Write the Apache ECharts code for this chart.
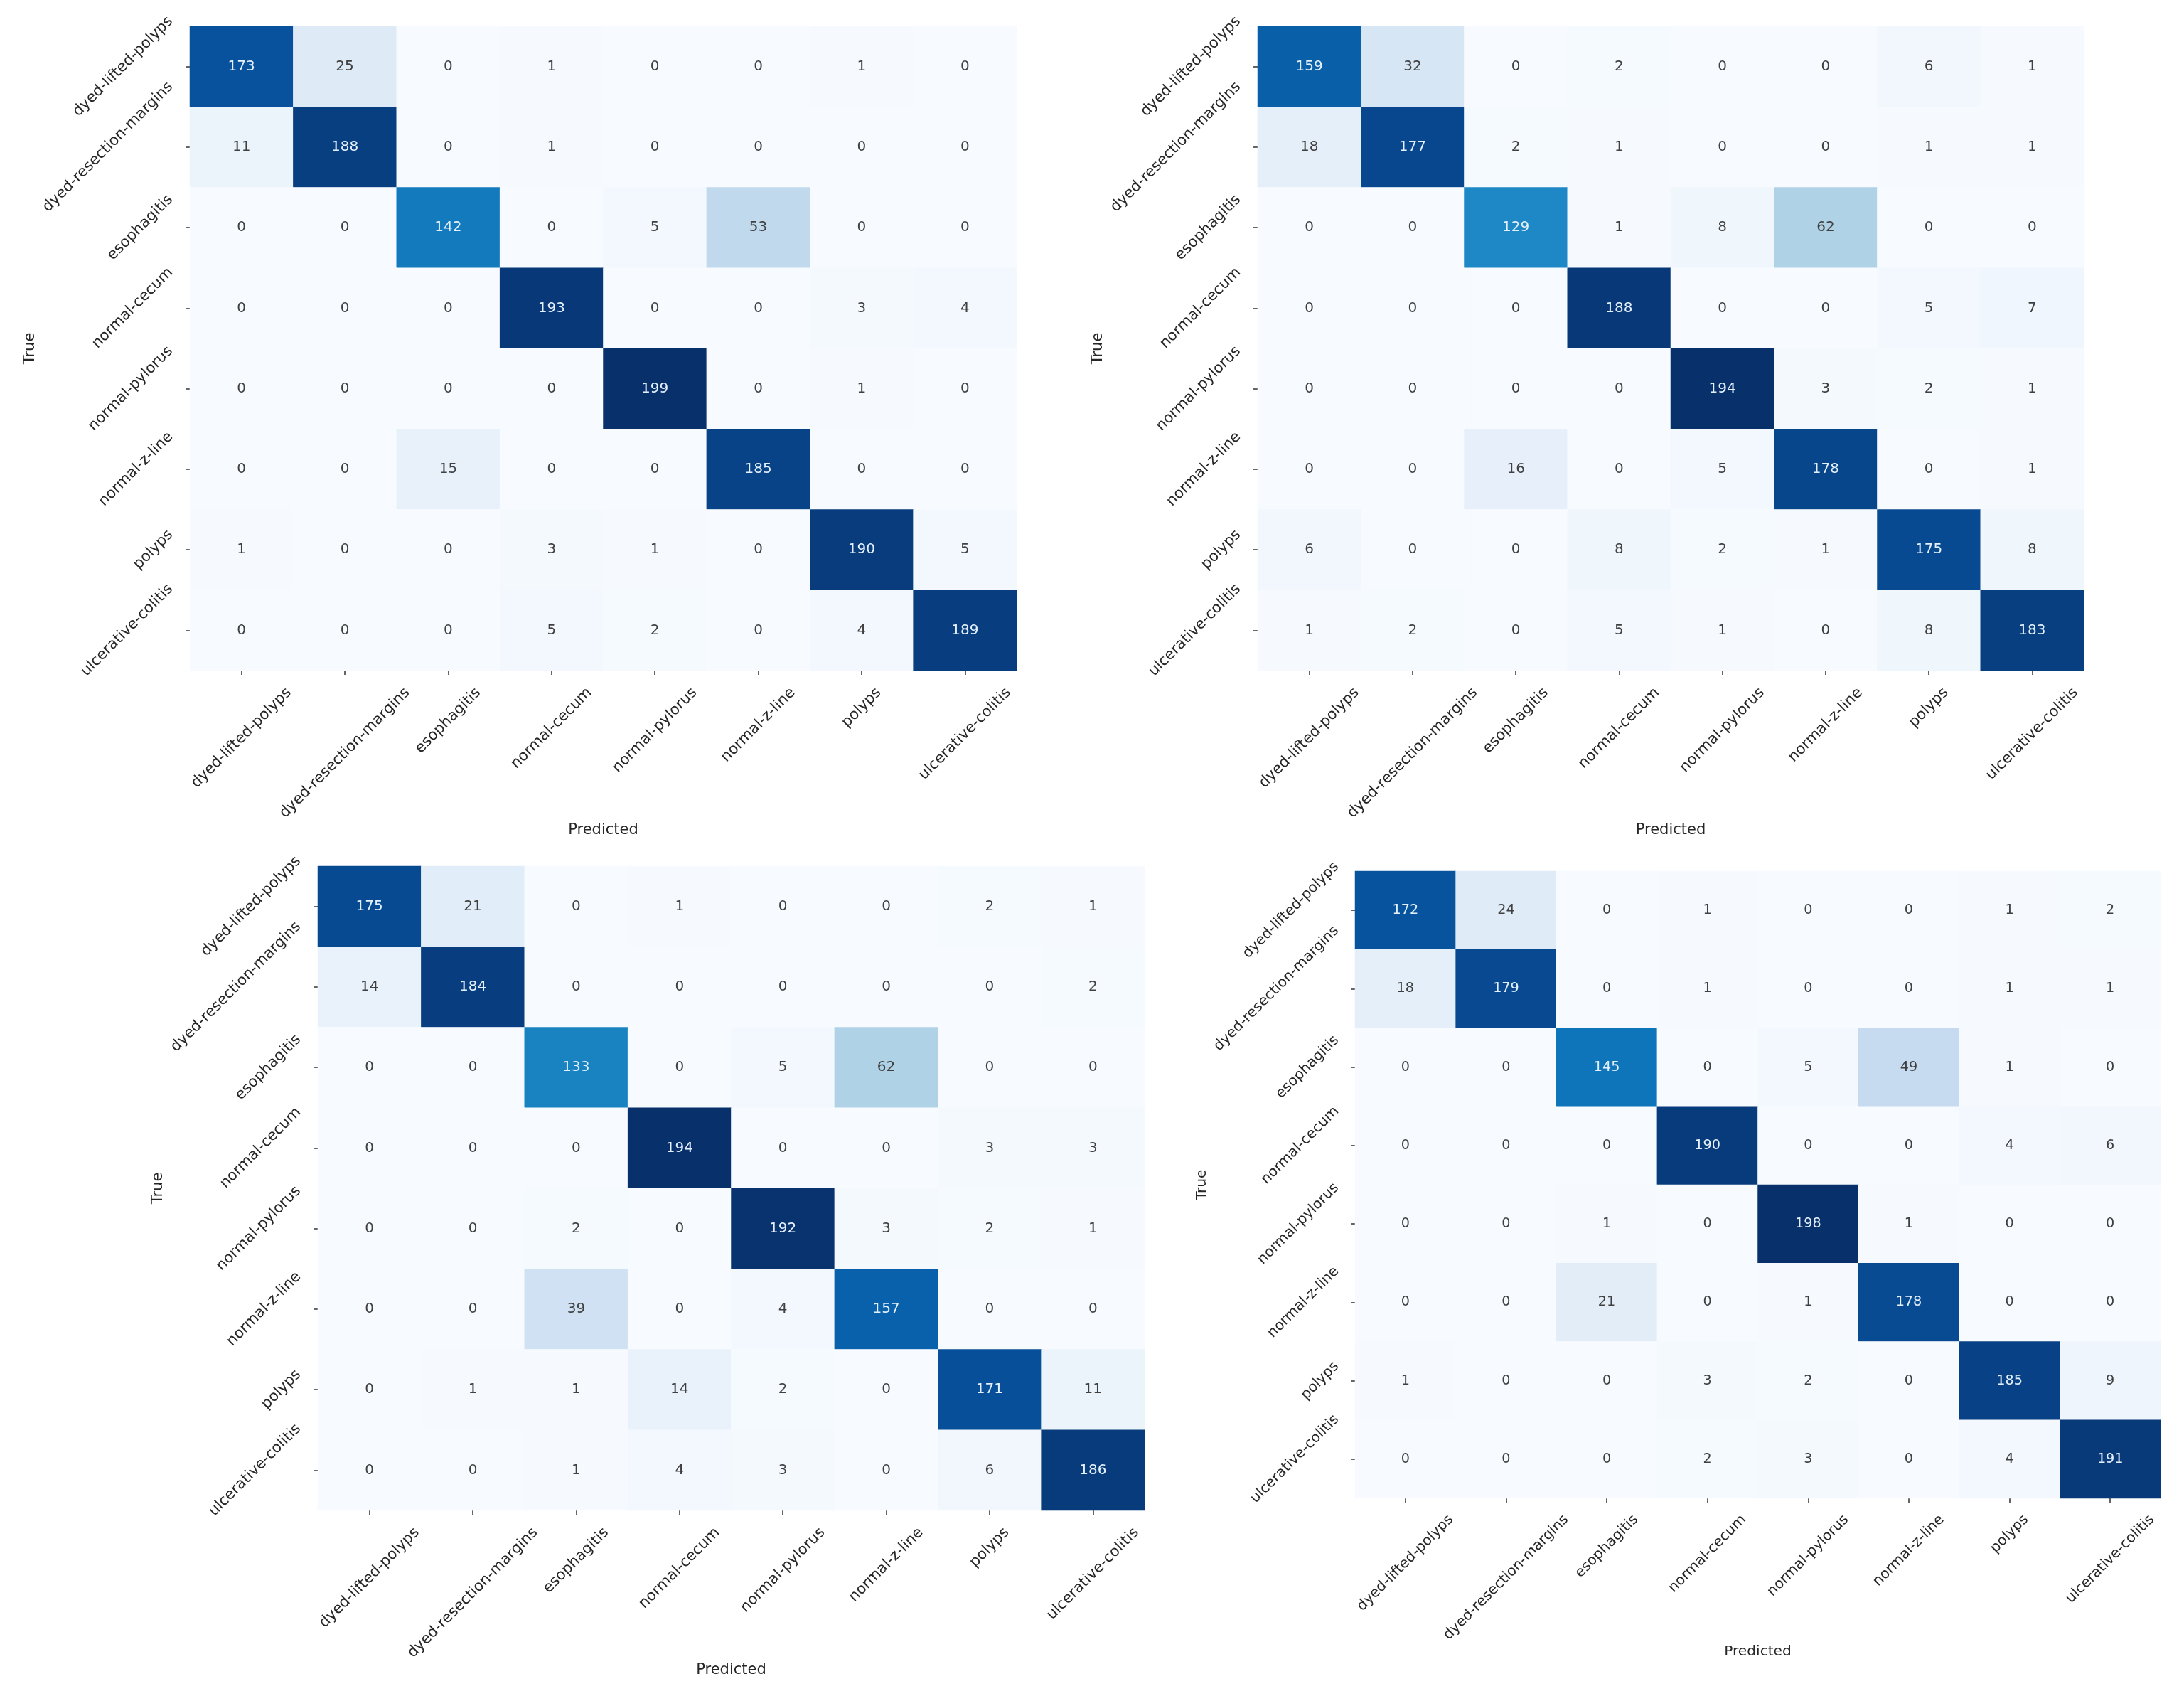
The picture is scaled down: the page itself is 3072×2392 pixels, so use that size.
<!DOCTYPE html>
<html><head><meta charset="utf-8">
<script src="https://cdn.jsdelivr.net/npm/echarts@6/dist/echarts.min.js"></script>
<style>html,body{margin:0;padding:0;background:#fff}#c{width:3072px;height:2392px}</style>
</head><body><div id="c"></div>
<script>
// ---------- data ----------
const classes = ['dyed-lifted-polyps','dyed-resection-margins','esophagitis','normal-cecum','normal-pylorus','normal-z-line','polyps','ulcerative-colitis'];
const xAxisTitle = 'Predicted';
const yAxisTitle = 'True';

const cmTopLeft = [
  [173, 25,   0,   1,   0,   0,   1,   0],
  [ 11, 188,  0,   1,   0,   0,   0,   0],
  [  0,  0, 142,   0,   5,  53,   0,   0],
  [  0,  0,   0, 193,   0,   0,   3,   4],
  [  0,  0,   0,   0, 199,   0,   1,   0],
  [  0,  0,  15,   0,   0, 185,   0,   0],
  [  1,  0,   0,   3,   1,   0, 190,   5],
  [  0,  0,   0,   5,   2,   0,   4, 189]
];
const cmTopRight = [
  [159, 32,   0,   2,   0,   0,   6,   1],
  [ 18, 177,  2,   1,   0,   0,   1,   1],
  [  0,  0, 129,   1,   8,  62,   0,   0],
  [  0,  0,   0, 188,   0,   0,   5,   7],
  [  0,  0,   0,   0, 194,   3,   2,   1],
  [  0,  0,  16,   0,   5, 178,   0,   1],
  [  6,  0,   0,   8,   2,   1, 175,   8],
  [  1,  2,   0,   5,   1,   0,   8, 183]
];
const cmBottomLeft = [
  [175, 21,   0,   1,   0,   0,   2,   1],
  [ 14, 184,  0,   0,   0,   0,   0,   2],
  [  0,  0, 133,   0,   5,  62,   0,   0],
  [  0,  0,   0, 194,   0,   0,   3,   3],
  [  0,  0,   2,   0, 192,   3,   2,   1],
  [  0,  0,  39,   0,   4, 157,   0,   0],
  [  0,  1,   1,  14,   2,   0, 171,  11],
  [  0,  0,   1,   4,   3,   0,   6, 186]
];
const cmBottomRight = [
  [172, 24,   0,   1,   0,   0,   1,   2],
  [ 18, 179,  0,   1,   0,   0,   1,   1],
  [  0,  0, 145,   0,   5,  49,   1,   0],
  [  0,  0,   0, 190,   0,   0,   4,   6],
  [  0,  0,   1,   0, 198,   1,   0,   0],
  [  0,  0,  21,   0,   1, 178,   0,   0],
  [  1,  0,   0,   3,   2,   0, 185,   9],
  [  0,  0,   0,   2,   3,   0,   4, 191]
];
const bluesColors = ['#f7fbff','#deebf7','#c6dbef','#9ecae1','#6baed6','#2894cc','#0a70b8','#08519c','#08306b'];

// ---------- layout ----------
const FONT = '"DejaVu Sans", sans-serif';
const panels = [
  {cm: cmTopLeft,     left: 267,  top: 37,   width: 1163, height: 906, s: 1},
  {cm: cmTopRight,    left: 1769, top: 37,   width: 1162, height: 906, s: 1},
  {cm: cmBottomLeft,  left: 447,  top: 1218, width: 1163, height: 906, s: 1},
  {cm: cmBottomRight, left: 1906, top: 1225, width: 1133, height: 882, s: 0.96}
];

const mctx = document.createElement('canvas').getContext('2d');
function textWidth(str, size) { mctx.font = size + 'px "DejaVu Sans"'; return mctx.measureText(str).width; }
const R2 = Math.SQRT2;

const option = {animation: false, backgroundColor: '#fff', grid: [], xAxis: [], yAxis: [], visualMap: [], series: []};

panels.forEach((p, i) => {
  const fs = 21 * p.s, afs = 20 * p.s;
  const widths = classes.map(c => textWidth(c, fs));
  const Lmax = Math.max(...widths);
  const yRich = {}, xRich = {};
  widths.forEach((L, k) => {
    const a = (Lmax - L) / 4, b = (Lmax + L) / 4;
    yRich['y' + k] = {fontSize: fs, fontFamily: FONT, color: '#262626', padding: [0, a, 2 * b, 0]};
    xRich['x' + k] = {fontSize: fs, fontFamily: FONT, color: '#262626', padding: [2 * b, a, 0, 0]};
  });
  const maxV = Math.max(...p.cm.flat());
  const data = [];
  p.cm.forEach((row, r) => row.forEach((v, c) => data.push([c, r, v])));

  option.grid.push({left: p.left, top: p.top, width: p.width, height: p.height});
  option.xAxis.push({
    type: 'category', gridIndex: i, data: classes,
    axisLine: {show: false}, splitLine: {show: false}, splitArea: {show: false},
    axisTick: {show: true, alignWithLabel: true, length: 6, lineStyle: {color: '#333', width: 1.5}},
    axisLabel: {interval: 0, rotate: 45, margin: 28 * p.s - Lmax / (2 * R2),
      fontSize: fs, fontFamily: FONT, color: '#262626',
      formatter: (v, k) => '{x' + k + '|' + v + '}', rich: xRich},
    name: xAxisTitle, nameLocation: 'middle', nameGap: 210 * p.s,
    nameTextStyle: {fontSize: fs, fontFamily: FONT, color: '#262626'}
  });
  option.yAxis.push({
    type: 'category', gridIndex: i, data: classes, inverse: true,
    axisLine: {show: false}, splitLine: {show: false}, splitArea: {show: false},
    axisTick: {show: true, alignWithLabel: true, length: 6, lineStyle: {color: '#333', width: 1.5}},
    axisLabel: {interval: 0, rotate: 45, margin: 27 * p.s - Lmax / (2 * R2),
      fontSize: fs, fontFamily: FONT, color: '#262626',
      formatter: (v, k) => '{y' + k + '|' + v + '}', rich: yRich},
    name: yAxisTitle, nameLocation: 'middle', nameGap: 214 * p.s, nameRotate: 90,
    nameTextStyle: {fontSize: fs, fontFamily: FONT, color: '#262626'}
  });
  option.visualMap.push({type: 'continuous', show: false, seriesIndex: i, min: 0, max: maxV,
    dimension: 2, inRange: {color: bluesColors}});
  option.series.push({
    type: 'heatmap', xAxisIndex: i, yAxisIndex: i, data: data,
    itemStyle: {borderWidth: 0},
    label: {show: true, fontSize: afs, fontFamily: FONT,
      formatter: d => (d.value[2] / maxV > 0.45 ? '{w|' : '{d|') + d.value[2] + '}',
      rich: {w: {color: '#e4f0fb', fontSize: afs, fontFamily: FONT},
             d: {color: '#404040', fontSize: afs, fontFamily: FONT}}},
    emphasis: {disabled: true}
  });
});

const chart = echarts.init(document.getElementById('c'), null, {renderer: 'canvas'});
chart.setOption(option);
</script>
</body></html>
